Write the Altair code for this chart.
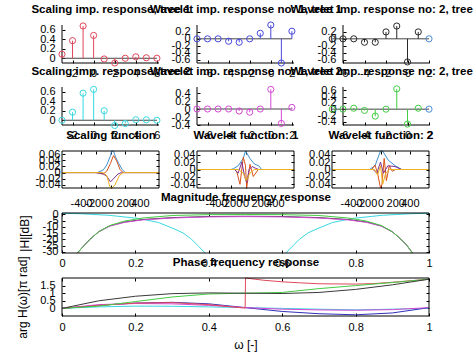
import altair as alt
import pandas as pd

FONT = "Liberation Sans"
W, H = 474, 355
T = 3  # inward tick length

# ======================= DATA =======================
n_scaling = [-3, -2, -1, 0, 1, 2, 3, 4, 5, 6]
n_wavelet = [-7, -6, -5, -4, -3, -2, -1, 0, 1, 2]
n_wavelet_b = [-7, -6, -5, -4, -3, -2, -1, 0, 1]
n_tail = [2]

scal_tree1 = [0.085, 0.37, 0.68, 0.48, -0.015, -0.10, 0.0, 0.03, 0.01, 0.0]
wav1_tree1 = [0.0, 0.0, 0.0, -0.07, -0.10, 0.0, 0.16, 0.40, -0.70, 0.22]
wav2_tree1 = [0.0, 0.0, 0.0, -0.10, -0.10, 0.20, 0.37, -0.67, 0.20]
tail_tree1 = [0.0]
scal_tree2 = [0.0, 0.17, 0.57, 0.65, 0.20, -0.11, -0.07, 0.01, 0.01, 0.0]
wav1_tree2 = [0.0, 0.0, 0.0, 0.0, -0.05, -0.08, 0.0, 0.49, -0.36, 0.04]
wav2_tree2 = [0.0, 0.0, 0.03, -0.04, -0.22, 0.0, 0.64, -0.47, 0.03]
tail_tree2 = [0.0]

# Scaling function
sf_blue_x = [-660, -180, -100, -50, 0, 15, 40, 70, 110, 160, 200, 660]
sf_blue_y = [0, 0, 0.008, 0.025, 0.055, 0.07, 0.07, 0.05, 0.03, 0.01, 0, 0]
sf_orange_x = [-660, -160, -100, -50, 0, 40, 80, 130, 170, 660]
sf_orange_y = [0, 0, -0.005, 0.005, 0.03, 0.055, 0.04, 0.01, 0, 0]
sf_purple_x = [-660, -200, -150, -100, -50, 0, 40, 100, 150, 660]
sf_purple_y = [0, 0, -0.003, -0.004, -0.012, -0.03, -0.02, -0.005, 0, 0]
sf_yellow_x = [-660, -100, -50, -10, 20, 60, 120, 170, 660]
sf_yellow_y = [0, 0, -0.01, -0.045, -0.05, -0.04, -0.01, 0, 0]

# Wavelet function 1
w1_blue_x = [-660, -200, -166, -100, -30, 0, 60, 120, 180, 220, 660]
w1_blue_y = [0, 0, 0.002, 0.01, 0.03, 0.05, 0.03, 0.015, 0.01, 0, 0]
w1_orange_x = [-660, -150, -120, -75, -30, 0, 16, 61, 106, 174, 660]
w1_orange_y = [0, 0, -0.005, -0.04, 0.033, 0.01, -0.05, 0.014, -0.019, 0, 0]
w1_purple_x = [-660, -150, -100, -50, -10, 16, 50, 90, 140, 180, 660]
w1_purple_y = [0, 0, -0.01, 0.02, -0.02, -0.035, 0, 0.008, 0.003, 0, 0]
w1_yellow_x = [-660, -100, -30, 10, 60, 120, 660]
w1_yellow_y = [0, 0, -0.01, -0.03, -0.01, 0, 0]

# Wavelet function 2
w2_blue_x = [-660, -150, -75, 0, 30, 106, 200, 288, 660]
w2_blue_y = [0, 0, 0.01, 0.05, 0.05, 0.025, 0.01, 0, 0]
w2_orange_x = [-660, -120, -75, -40, 0, 20, 50, 80, 120, 160, 200, 660]
w2_orange_y = [0, 0, 0.012, -0.01, -0.05, -0.04, 0.03, -0.03, 0.01, -0.005, 0, 0]
w2_purple_x = [-660, -100, -50, 0, 40, 100, 197, 288, 660]
w2_purple_y = [0, 0, -0.01, 0.02, -0.01, 0.01, 0.008, 0, 0]
w2_yellow_x = [-660, -80, -40, 0, 30, 70, 120, 660]
w2_yellow_y = [0, 0, -0.015, 0.01, -0.04, -0.01, 0, 0]

# Magnitude frequency response (dB)
mag_cyan_a_x = [0, 0.05, 0.127, 0.21, 0.263, 0.308, 0.33, 0.353, 0.37, 0.39]
mag_cyan_a_y = [0.8, 0.4, -0.8, -3.4, -6.6, -12, -15, -20, -25, -31]
mag_cyan_b_x = [0.61, 0.63, 0.647, 0.67, 0.692, 0.737, 0.79, 0.873, 0.95, 1.0]
mag_cyan_b_y = [-31, -25, -20, -15, -12, -6.6, -3.4, -0.8, 0.4, 0.8]
mag_arc_x = [0.042, 0.06, 0.08, 0.1, 0.13, 0.17, 0.22, 0.3, 0.4, 0.5, 0.6, 0.7, 0.78, 0.83, 0.87, 0.9, 0.92, 0.94, 0.955]
mag_green_y = [-31, -25, -19, -14, -9, -5.5, -3, -1, -0.3, -0.2, -0.3, -1, -3, -5.5, -9, -14, -19, -25, -31]
mag_black_y = [-31, -25, -19, -14, -9.3, -6.2, -4.2, -2.7, -1.8, -1.6, -1.8, -2.7, -4.2, -6.2, -9.3, -14, -19, -25, -31]
mag_magenta_y = [-31, -25, -19, -14, -9.5, -6.5, -4.5, -3, -2.1, -1.9, -2.1, -3, -4.5, -6.5, -9.5, -14, -19, -25, -31]

# Phase frequency response (pi rad)
ph_x = [0, 0.1, 0.2, 0.3, 0.4, 0.5, 0.6, 0.7, 0.8, 0.9, 1.0]
ph_green_y = [0, 0.15, 0.45, 0.75, 0.95, 1.0, 1.05, 1.3, 1.5, 1.7, 1.92]
ph_black_y = [0, 0.5, 0.8, 0.97, 1.02, 1.0, 0.98, 1.05, 1.25, 1.55, 1.92]
ph_magenta_y = [0, 0.25, 0.32, 0.3, 0.2, 0.05, -0.05, -0.1, -0.12, -0.08, 0.05]
ph_blue_y = [0, 0.2, 0.35, 0.4, 0.3, 0.05, -0.2, -0.35, -0.42, -0.3, 0.05]
ph_cyan_y = [0, 0.1, 0.15, 0.14, 0.1, 0.05, 0, -0.05, -0.1, -0.05, 0]
ph_red_x = [0, 0.1, 0.2, 0.3, 0.4, 0.499, 0.5, 0.55, 0.6, 0.65, 0.7, 0.8, 0.85, 0.9, 1.0]
ph_red_y = [0, 0.2, 0.35, 0.38, 0.25, 0.02, 2.0, 1.85, 1.75, 1.68, 1.62, 1.6, 1.63, 1.72, 1.92]

# tick values
xt_scal = [-2, 0, 2, 4, 6]
xt_wav = [-6, -4, -2, 0, 2]
yt_scal = [0, 0.2, 0.4, 0.6]
yt_w_t1 = [-0.6, -0.4, -0.2, 0, 0.2]
yt_w1_t2 = [-0.4, -0.2, 0, 0.2, 0.4]
yt_w2_t2 = [-0.4, -0.2, 0, 0.2, 0.4, 0.6]
xt_fun = [-400, -200, 0, 200, 400]
yt_fun1 = [-0.04, -0.02, 0, 0.02, 0.04, 0.06]
yt_fun = [-0.04, -0.02, 0, 0.02, 0.04]
xt_freq = [0, 0.2, 0.4, 0.6, 0.8, 1]
yt_mag = [-30, -25, -20, -15, -10, -5, 0]
yt_phase = [0, 0.5, 1, 1.5]

# ======================= LAYOUT / STYLE =======================
COL = [(62, 159), (197, 294), (332, 429)]
COL3_STEM = (343, 429)
R1, R2, R3, R4, R5 = (25, 63), (87, 125), (151, 188), (213, 253), (278, 316)

C_RED, C_BLUE, C_BLACK = "#e0485a", "#4848dc", "#2a2a2a"
C_CYAN, C_MAG, C_GREEN, C_LBLUE = "#38d8e0", "#d448d4", "#44cc44", "#4d8fd6"
M_BLUE, M_ORANGE, M_YELLOW, M_PURPLE = "#3d8fd0", "#d95319", "#edb120", "#7e2f8e"

ONE = pd.DataFrame({"k": [0]})


def sc(dom, rng, clamp=False):
    return alt.Scale(domain=dom, range=rng, nice=False, zero=False, clamp=clamp)


def common():
    return dict(labelFont=FONT, labelFontSize=11, labelColor="black", labelOverlap=False,
                labelFlush=False, grid=False, tickColor="black", tickWidth=1, tickSize=T,
                labelExpr="toString(datum.value)")


def axis_left(x_px, ticks, pad, title=None, title_x=None, title_y=None):
    kw = common()
    kw.update(orient="left", offset=-(x_px + T), values=ticks, domain=False, labelPadding=pad)
    if title is None:
        kw["title"] = None
    else:
        kw.update(title=title, titleX=title_x - (x_px + T), titleY=title_y, titleAngle=270,
                  titleAlign="center", titleFont=FONT, titleFontSize=12,
                  titleFontWeight="normal", titleColor="black", titleBaseline="middle")
    return alt.Axis(**kw)


def axis_bottom(y_px, ticks, pad, title=None, title_y=None):
    kw = common()
    kw.update(orient="bottom", offset=(y_px - T) - H, values=ticks, domain=False, labelPadding=pad)
    if title is None:
        kw["title"] = None
    else:
        kw.update(title=title, titleY=title_y - (y_px - T), titleFont=FONT, titleFontSize=12,
                  titleFontWeight="normal", titleColor="black", titleBaseline="middle")
    return alt.Axis(**kw)


def axis_top(y_px, ticks, title, with_ticks):
    gy = y_px + T if with_ticks else y_px
    kw = common()
    kw.update(orient="top", offset=-gy, values=ticks, domain=False, labels=False, ticks=with_ticks,
              title=title, titleFont=FONT, titleFontSize=11.5, titleFontWeight="bold",
              titleColor="black", titleBaseline="alphabetic", titleY=(y_px - 13) - gy)
    return alt.Axis(**kw)


def axis_right(x_px, ticks):
    kw = common()
    kw.update(orient="right", offset=(x_px - T) - W, values=ticks, domain=False, labels=False)
    kw["title"] = None
    return alt.Axis(**kw)


def stem_panel(series, xr, yr, xdom, ydom, nspan, xticks, yticks, title):
    xs = sc(xdom, [xr[0], xr[1]])
    ys = sc(ydom, [yr[1], yr[0]])
    out = [
        alt.Chart(ONE).mark_rule(color="#444444", strokeWidth=1).encode(
            x=alt.X(datum=nspan[0], type="quantitative", scale=xs,
                    axis=axis_top(yr[0], xticks, title, False)),
            x2=alt.X2(datum=nspan[1]),
            y=alt.Y(datum=0, type="quantitative", scale=ys, axis=None)),
        alt.Chart(ONE).mark_rule(color="black", strokeWidth=1).encode(
            x=alt.X(datum=xdom[0], type="quantitative", scale=xs, axis=None),
            y=alt.Y(datum=ydom[0], type="quantitative", scale=ys, axis=None),
            y2=alt.Y2(datum=ydom[1])),
        alt.Chart(ONE).mark_rule(color="black", strokeWidth=1).encode(
            x=alt.X(datum=xdom[0], type="quantitative", scale=xs, axis=None),
            x2=alt.X2(datum=xdom[1]),
            y=alt.Y(datum=ydom[0], type="quantitative", scale=ys, axis=None)),
    ]
    for i, (n, v, col) in enumerate(series):
        df = pd.DataFrame({"n": n, "v": v})
        main = i == 0
        out.append(alt.Chart(df).mark_rule(color=col, strokeWidth=1).encode(
            x=alt.X("n:Q", scale=xs, axis=axis_bottom(yr[1], xticks, 4) if main else None),
            y=alt.Y("v:Q", scale=ys, axis=axis_left(xr[0], yticks, 7) if main else None),
            y2=alt.Y2(datum=0)))
        out.append(alt.Chart(df).mark_point(shape="circle", filled=False, color=col, size=38,
                                            strokeWidth=1, opacity=1).encode(
            x=alt.X("n:Q", scale=xs, axis=None),
            y=alt.Y("v:Q", scale=ys, axis=None)))
    return out


def line_df(items):
    frames = []
    for name, xs_, ys_ in items:
        frames.append(pd.DataFrame({"x": xs_, "y": ys_, "s": name}))
    return pd.concat(frames, ignore_index=True)


def line_panel(df, cdom, crng, xr, yr, xdom, ydom, xticks, yticks, title, ypad, xpad,
               ytitle=None, ytitle_x=None, xtitle=None, xtitle_y=None):
    xs = sc(xdom, [xr[0], xr[1]])
    ys = sc(ydom, [yr[1], yr[0]], clamp=True)
    lines = alt.Chart(df).mark_line(strokeWidth=1).encode(
        x=alt.X("x:Q", scale=xs, axis=axis_bottom(yr[1], xticks, xpad, xtitle, xtitle_y)),
        y=alt.Y("y:Q", scale=ys,
                axis=axis_left(xr[0], yticks, ypad, ytitle, ytitle_x, (yr[0] + yr[1]) / 2)),
        color=alt.Color("s:N", scale=alt.Scale(domain=cdom, range=crng), legend=None))
    box = alt.Chart(ONE).mark_rect(fillOpacity=0, stroke="black", strokeWidth=1).encode(
        x=alt.X(datum=xdom[0], type="quantitative", scale=xs, axis=axis_top(yr[0], xticks, title, True)),
        x2=alt.X2(datum=xdom[1]),
        y=alt.Y(datum=ydom[0], type="quantitative", scale=ys, axis=axis_right(xr[1], yticks)),
        y2=alt.Y2(datum=ydom[1]))
    return [lines, box]


layers = []
# ---- row 1 (tree 1) ----
layers += stem_panel([(n_scaling, scal_tree1, C_RED)], COL[0], R1, [-3, 6.2], [-0.1, 0.7],
                     [-3, 6], xt_scal, yt_scal, "Scaling imp. response, tree 1")
layers += stem_panel([(n_wavelet, wav1_tree1, C_BLUE)], COL[1], R1, [-7, 2.2], [-0.7, 0.4],
                     [-7, 2], xt_wav, yt_w_t1, "Wavelet imp. response no: 1, tree 1")
layers += stem_panel([(n_wavelet_b, wav2_tree1, C_BLACK), (n_tail, tail_tree1, C_LBLUE)],
                     COL3_STEM, R1, [-6, 2], [-0.7, 0.4], [-7, 2], xt_wav, yt_w_t1,
                     "Wavelet imp. response no: 2, tree 1")
# ---- row 2 (tree 2) ----
layers += stem_panel([(n_scaling, scal_tree2, C_CYAN)], COL[0], R2, [-3, 6.2], [-0.1, 0.7],
                     [-3, 6], xt_scal, yt_scal, "Scaling imp. response, tree 2")
layers += stem_panel([(n_wavelet, wav1_tree2, C_MAG)], COL[1], R2, [-7, 2.2], [-0.4, 0.55],
                     [-7, 2], xt_wav, yt_w1_t2, "Wavelet imp. response no: 1, tree 2")
layers += stem_panel([(n_wavelet_b, wav2_tree2, C_GREEN), (n_tail, tail_tree2, C_LBLUE)],
                     COL3_STEM, R2, [-6, 2], [-0.5, 0.7], [-7, 2], xt_wav, yt_w2_t2,
                     "Wavelet imp. response no: 2, tree 2")

# ---- row 3 (functions) ----
fun_dom = ["a", "b", "c", "d"]
fun_rng = [M_BLUE, M_ORANGE, M_PURPLE, M_YELLOW]
df_sf = line_df([("a", sf_blue_x, sf_blue_y), ("b", sf_orange_x, sf_orange_y),
                 ("c", sf_purple_x, sf_purple_y), ("d", sf_yellow_x, sf_yellow_y)])
df_w1 = line_df([("a", w1_blue_x, w1_blue_y), ("b", w1_orange_x, w1_orange_y),
                 ("c", w1_purple_x, w1_purple_y), ("d", w1_yellow_x, w1_yellow_y)])
df_w2 = line_df([("a", w2_blue_x, w2_blue_y), ("b", w2_orange_x, w2_orange_y),
                 ("c", w2_purple_x, w2_purple_y), ("d", w2_yellow_x, w2_yellow_y)])
layers += line_panel(df_sf, fun_dom, fun_rng, COL[0], R3, [-660, 660], [-0.05, 0.07],
                     xt_fun, yt_fun1, "Scaling function", 2, 9)
layers += line_panel(df_w1, fun_dom, fun_rng, COL[1], R3, [-660, 660], [-0.05, 0.05],
                     xt_fun, yt_fun, "Wavelet function: 1", 2, 9)
layers += line_panel(df_w2, fun_dom, fun_rng, COL[2], R3, [-660, 660], [-0.05, 0.05],
                     xt_fun, yt_fun, "Wavelet function: 2", 2, 9)

# ---- row 4 (magnitude) ----
df_mag = line_df([("cya", mag_cyan_a_x, mag_cyan_a_y), ("cyb", mag_cyan_b_x, mag_cyan_b_y),
                  ("blk", mag_arc_x, mag_black_y), ("mag", mag_arc_x, mag_magenta_y),
                  ("grn", mag_arc_x, mag_green_y)])
layers += line_panel(df_mag, ["cya", "cyb", "blk", "mag", "grn"],
                     [C_CYAN, C_CYAN, "#3a3a3a", C_MAG, C_GREEN],
                     (COL[0][0], COL[2][1]), R4, [0, 1], [-31, 1], xt_freq, yt_mag,
                     "Magnitude frequency response", 4, 4, "|H|[dB]", 24)

# ---- row 5 (phase) ----
df_ph = line_df([("cyn", ph_x, ph_cyan_y), ("blu", ph_x, ph_blue_y), ("mag", ph_x, ph_magenta_y),
                 ("red", ph_red_x, ph_red_y), ("grn", ph_x, ph_green_y), ("blk", ph_x, ph_black_y)])
layers += line_panel(df_ph, ["cyn", "blu", "mag", "red", "grn", "blk"],
                     [C_CYAN, "#3030b8", C_MAG, C_RED, C_GREEN, "#3a3a3a"],
                     (COL[0][0], COL[2][1]), R5, [0, 1], [-0.5, 2], xt_freq, yt_phase,
                     "Phase frequency response", 7, 5, "arg H(ω)[π rad]", 22, "ω [-]", 344)

chart = alt.layer(*layers).resolve_scale(
    x="independent", y="independent", color="independent"
).resolve_axis(
    x="independent", y="independent"
).properties(
    width=W, height=H, padding=0, autosize=alt.AutoSizeParams(type="none")
).configure(font=FONT).configure_view(strokeWidth=0)

chart.save("out.html", embed_options={"renderer": "svg", "actions": False})
